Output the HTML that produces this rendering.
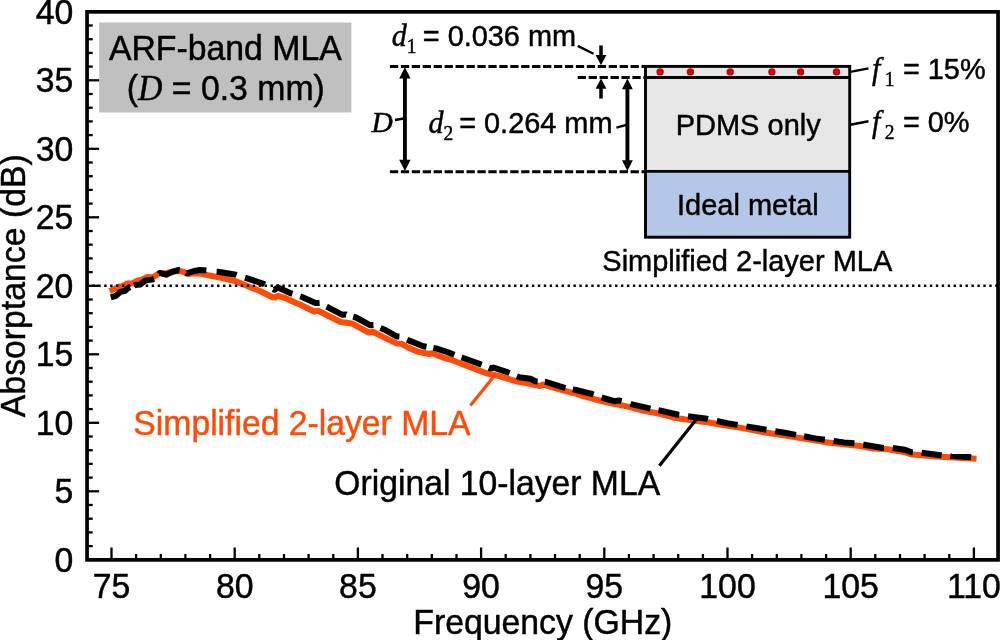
<!DOCTYPE html>
<html lang="en"><head><meta charset="utf-8"><title>Absorptance vs Frequency</title>
<style>html,body{margin:0;padding:0;background:#fff;}body{width:1000px;height:640px;overflow:hidden;}svg{display:block;}text{font-family:"Liberation Sans",sans-serif;fill:#000;}.it{font-family:"Liberation Serif",serif;font-style:italic;}.sr{font-family:"Liberation Serif",serif;font-style:normal;}</style></head><body>
<svg width="1000" height="640" viewBox="0 0 1000 640">
<rect x="0" y="0" width="1000" height="640" fill="#fff"/>
<g id="title-box">
<rect x="99.2" y="22.5" width="252.2" height="90" fill="#c0c0c0"/>
<text transform="translate(225.3 60.4) scale(1 1.04)" font-size="33.8" text-anchor="middle" style="fill:#000;stroke:#000;stroke-width:0.45px" >ARF-band MLA</text>
<text transform="translate(225.8 100.2) scale(1 1.04)" font-size="33.8" text-anchor="middle" style="fill:#000;stroke:#000;stroke-width:0.45px" >(<tspan class="it">D</tspan> = 0.3 mm)</text>
</g>
<g id="curves" fill="none">
<polyline points="109.6,291.2 114.8,288.6 119.3,286.4 122.0,286.4 127.4,283.5 131.9,283.6 137.3,280.7 141.8,279.6 147.2,276.9 152.6,277.3 159.8,273.1 165.2,273.5 172.4,271.6 179.6,270.9 184.1,272.0 187.7,274.0 194.0,273.2 200.0,273.6 212.0,276.0 224.0,278.4 236.0,281.4 248.0,286.2 260.0,291.0 272.0,297.0 275.0,297.6 278.0,295.8 284.0,297.6 296.0,303.0 300.0,304.5 314.0,311.5 318.2,310.8 328.0,315.7 340.6,322.0 346.2,322.7 351.8,323.4 368.6,332.5 372.8,331.8 384.0,337.4 396.6,343.4 401.3,343.7 407.5,347.2 413.8,350.1 420.0,352.3 423.1,352.8 429.4,354.0 432.5,353.2 438.8,355.9 445.0,358.2 450.0,359.2 462.5,364.2 475.0,369.0 487.5,373.6 492.0,374.4 500.0,376.4 516.0,381.2 528.8,383.6 540.0,386.0 543.2,384.6 564.0,390.6 576.0,393.6 580.0,395.0 596.0,399.7 612.8,403.5 628.0,406.6 644.0,410.8 660.0,413.8 676.0,418.0 692.0,420.4 708.0,422.3 724.0,425.3 740.0,427.6 764.0,432.2 796.0,437.4 828.0,442.5 860.0,446.0 872.0,448.4 888.0,449.2 904.0,452.0 912.0,454.6 936.0,456.4 976.5,458.8" stroke="#ff4b08" stroke-width="6" stroke-linejoin="round"/>
<g stroke="#000" stroke-width="6" stroke-linejoin="round">
<polyline points="110.8,297.3 115.7,295.9 120.2,291.9 124.7,291.0 128.3,287.9 130.1,287.2"/>
<polyline points="134.2,285.5 135.5,285.0 140.0,284.6 145.4,280.5 151.7,279.6 154.0,278.8"/>
<polyline points="158.9,273.9 159.8,272.9 166.1,274.7 172.4,271.8 178.7,270.0 179.6,270.1"/>
<polyline points="185.9,272.8 186.8,273.3 194.0,271.0 200.0,270.0 206.4,270.6"/>
<polyline points="216.6,271.7 218.0,271.8 236.0,274.8 236.6,275.0"/>
<polyline points="245.0,277.6 245.6,277.8 263.6,283.8 264.8,284.5"/>
<polyline points="273.2,289.1 274.4,289.8 278.0,287.4 291.2,293.4 292.4,293.8"/>
<polyline points="300.2,296.4 302.0,297.0 315.4,303.1 319.6,302.9"/>
<polyline points="326.6,306.6 328.0,307.3 342.0,314.7 346.0,314.5 346.2,314.6"/>
<polyline points="353.2,316.7 356.0,317.5 370.0,325.2 373.5,325.0"/>
<polyline points="380.5,327.9 384.0,329.4 396.6,336.4 399.4,336.6"/>
<polyline points="407.1,339.7 409.2,340.6 423.2,346.2 426.5,346.8"/>
<polyline points="433.3,347.9 436.0,348.4 450.4,353.2 454.4,354.7"/>
<polyline points="461.6,357.4 463.2,358.0 480.8,364.4 481.6,364.7"/>
<polyline points="488.8,367.7 490.4,368.4 493.6,367.6 508.0,372.4 509.6,373.1"/>
<polyline points="516.8,376.2 519.2,377.2 530.4,378.8 535.2,381.2 537.6,381.4"/>
<polyline points="544.8,381.9 546.4,382.0 564.0,387.6 565.6,387.9"/>
<polyline points="572.8,389.4 576.0,390.0 592.0,394.0 593.6,394.6"/>
<polyline points="601.6,397.4 603.2,398.0 614.4,401.2 619.2,400.4 621.6,401.1"/>
<polyline points="630.4,403.9 632.0,404.4 649.6,408.4 650.4,408.6"/>
<polyline points="658.4,410.3 660.8,410.8 678.4,414.8 679.2,414.9"/>
<polyline points="688.0,416.2 689.6,416.4 707.2,418.8 708.0,419.0"/>
<polyline points="716.8,420.9 727.2,423.2 737.6,424.9"/>
<polyline points="746.4,426.4 756.0,428.0 766.4,429.7"/>
<polyline points="775.2,431.2 784.8,432.8 796.0,434.9"/>
<polyline points="804.0,436.3 815.2,438.4 824.8,439.7"/>
<polyline points="833.6,441.0 844.0,442.4 854.4,443.2"/>
<polyline points="863.2,444.7 864.0,444.8 883.2,448.0 884.0,448.0"/>
<polyline points="892.8,448.0 905.0,449.8 911.5,452.2 912.8,452.3"/>
<polyline points="921.6,452.8 940.8,455.2 941.6,455.3"/>
<polyline points="950.4,455.9 951.2,456.0 971.2,457.2"/>
</g></g>
<line x1="86.38" y1="285.8" x2="998.0" y2="285.8" stroke="#000" stroke-width="2.4" stroke-dasharray="2.4 3.54"/>
<g id="ticks" stroke="#000" stroke-width="2.3">
<line x1="111.5" y1="559.85" x2="111.5" y2="547.5"/>
<line x1="136.1" y1="559.85" x2="136.1" y2="554.0"/>
<line x1="160.8" y1="559.85" x2="160.8" y2="554.0"/>
<line x1="185.4" y1="559.85" x2="185.4" y2="554.0"/>
<line x1="210.1" y1="559.85" x2="210.1" y2="554.0"/>
<line x1="234.7" y1="559.85" x2="234.7" y2="547.5"/>
<line x1="259.3" y1="559.85" x2="259.3" y2="554.0"/>
<line x1="284.0" y1="559.85" x2="284.0" y2="554.0"/>
<line x1="308.6" y1="559.85" x2="308.6" y2="554.0"/>
<line x1="333.3" y1="559.85" x2="333.3" y2="554.0"/>
<line x1="357.9" y1="559.85" x2="357.9" y2="547.5"/>
<line x1="382.5" y1="559.85" x2="382.5" y2="554.0"/>
<line x1="407.2" y1="559.85" x2="407.2" y2="554.0"/>
<line x1="431.8" y1="559.85" x2="431.8" y2="554.0"/>
<line x1="456.5" y1="559.85" x2="456.5" y2="554.0"/>
<line x1="481.1" y1="559.85" x2="481.1" y2="547.5"/>
<line x1="505.7" y1="559.85" x2="505.7" y2="554.0"/>
<line x1="530.4" y1="559.85" x2="530.4" y2="554.0"/>
<line x1="555.0" y1="559.85" x2="555.0" y2="554.0"/>
<line x1="579.7" y1="559.85" x2="579.7" y2="554.0"/>
<line x1="604.3" y1="559.85" x2="604.3" y2="547.5"/>
<line x1="628.9" y1="559.85" x2="628.9" y2="554.0"/>
<line x1="653.6" y1="559.85" x2="653.6" y2="554.0"/>
<line x1="678.2" y1="559.85" x2="678.2" y2="554.0"/>
<line x1="702.9" y1="559.85" x2="702.9" y2="554.0"/>
<line x1="727.5" y1="559.85" x2="727.5" y2="547.5"/>
<line x1="752.1" y1="559.85" x2="752.1" y2="554.0"/>
<line x1="776.8" y1="559.85" x2="776.8" y2="554.0"/>
<line x1="801.4" y1="559.85" x2="801.4" y2="554.0"/>
<line x1="826.1" y1="559.85" x2="826.1" y2="554.0"/>
<line x1="850.7" y1="559.85" x2="850.7" y2="547.5"/>
<line x1="875.3" y1="559.85" x2="875.3" y2="554.0"/>
<line x1="900.0" y1="559.85" x2="900.0" y2="554.0"/>
<line x1="924.6" y1="559.85" x2="924.6" y2="554.0"/>
<line x1="949.3" y1="559.85" x2="949.3" y2="554.0"/>
<line x1="973.9" y1="559.85" x2="973.9" y2="547.5"/>
<line x1="87.05" y1="546.1" x2="92.7" y2="546.1"/>
<line x1="87.05" y1="532.4" x2="92.7" y2="532.4"/>
<line x1="87.05" y1="518.7" x2="92.7" y2="518.7"/>
<line x1="87.05" y1="505.0" x2="92.7" y2="505.0"/>
<line x1="87.05" y1="491.3" x2="99.1" y2="491.3"/>
<line x1="87.05" y1="477.6" x2="92.7" y2="477.6"/>
<line x1="87.05" y1="463.9" x2="92.7" y2="463.9"/>
<line x1="87.05" y1="450.2" x2="92.7" y2="450.2"/>
<line x1="87.05" y1="436.5" x2="92.7" y2="436.5"/>
<line x1="87.05" y1="422.8" x2="99.1" y2="422.8"/>
<line x1="87.05" y1="409.1" x2="92.7" y2="409.1"/>
<line x1="87.05" y1="395.4" x2="92.7" y2="395.4"/>
<line x1="87.05" y1="381.7" x2="92.7" y2="381.7"/>
<line x1="87.05" y1="368.0" x2="92.7" y2="368.0"/>
<line x1="87.05" y1="354.3" x2="99.1" y2="354.3"/>
<line x1="87.05" y1="340.6" x2="92.7" y2="340.6"/>
<line x1="87.05" y1="326.9" x2="92.7" y2="326.9"/>
<line x1="87.05" y1="313.2" x2="92.7" y2="313.2"/>
<line x1="87.05" y1="299.5" x2="92.7" y2="299.5"/>
<line x1="87.05" y1="285.8" x2="99.1" y2="285.8"/>
<line x1="87.05" y1="272.1" x2="92.7" y2="272.1"/>
<line x1="87.05" y1="258.4" x2="92.7" y2="258.4"/>
<line x1="87.05" y1="244.7" x2="92.7" y2="244.7"/>
<line x1="87.05" y1="231.0" x2="92.7" y2="231.0"/>
<line x1="87.05" y1="217.3" x2="99.1" y2="217.3"/>
<line x1="87.05" y1="203.6" x2="92.7" y2="203.6"/>
<line x1="87.05" y1="189.9" x2="92.7" y2="189.9"/>
<line x1="87.05" y1="176.2" x2="92.7" y2="176.2"/>
<line x1="87.05" y1="162.5" x2="92.7" y2="162.5"/>
<line x1="87.05" y1="148.8" x2="99.1" y2="148.8"/>
<line x1="87.05" y1="135.1" x2="92.7" y2="135.1"/>
<line x1="87.05" y1="121.4" x2="92.7" y2="121.4"/>
<line x1="87.05" y1="107.7" x2="92.7" y2="107.7"/>
<line x1="87.05" y1="94.0" x2="92.7" y2="94.0"/>
<line x1="87.05" y1="80.3" x2="99.1" y2="80.3"/>
<line x1="87.05" y1="66.6" x2="92.7" y2="66.6"/>
<line x1="87.05" y1="52.9" x2="92.7" y2="52.9"/>
<line x1="87.05" y1="39.2" x2="92.7" y2="39.2"/>
<line x1="87.05" y1="25.5" x2="92.7" y2="25.5"/>
</g>
<rect x="87.05" y="11.85" width="911.0" height="548.0" fill="none" stroke="#000" stroke-width="3.7"/>
<g id="xlabels">
<text transform="translate(111.5 597.8) scale(1 1.04)" font-size="33.8" text-anchor="middle" style="fill:#000;stroke:#000;stroke-width:0.45px" >75</text>
<text transform="translate(234.7 597.8) scale(1 1.04)" font-size="33.8" text-anchor="middle" style="fill:#000;stroke:#000;stroke-width:0.45px" >80</text>
<text transform="translate(357.9 597.8) scale(1 1.04)" font-size="33.8" text-anchor="middle" style="fill:#000;stroke:#000;stroke-width:0.45px" >85</text>
<text transform="translate(481.1 597.8) scale(1 1.04)" font-size="33.8" text-anchor="middle" style="fill:#000;stroke:#000;stroke-width:0.45px" >90</text>
<text transform="translate(604.3 597.8) scale(1 1.04)" font-size="33.8" text-anchor="middle" style="fill:#000;stroke:#000;stroke-width:0.45px" >95</text>
<text transform="translate(727.5 597.8) scale(1 1.04)" font-size="33.8" text-anchor="middle" style="fill:#000;stroke:#000;stroke-width:0.45px" >100</text>
<text transform="translate(850.7 597.8) scale(1 1.04)" font-size="33.8" text-anchor="middle" style="fill:#000;stroke:#000;stroke-width:0.45px" >105</text>
<text transform="translate(973.9 597.8) scale(1 1.04)" font-size="33.8" text-anchor="middle" style="fill:#000;stroke:#000;stroke-width:0.45px" >110</text>
</g>
<g id="ylabels">
<text transform="translate(73.4 571.9) scale(1 1.04)" font-size="33.8" text-anchor="end" style="fill:#000;stroke:#000;stroke-width:0.45px" >0</text>
<text transform="translate(73.4 503.4) scale(1 1.04)" font-size="33.8" text-anchor="end" style="fill:#000;stroke:#000;stroke-width:0.45px" >5</text>
<text transform="translate(73.4 434.9) scale(1 1.04)" font-size="33.8" text-anchor="end" style="fill:#000;stroke:#000;stroke-width:0.45px" >10</text>
<text transform="translate(73.4 366.4) scale(1 1.04)" font-size="33.8" text-anchor="end" style="fill:#000;stroke:#000;stroke-width:0.45px" >15</text>
<text transform="translate(73.4 297.9) scale(1 1.04)" font-size="33.8" text-anchor="end" style="fill:#000;stroke:#000;stroke-width:0.45px" >20</text>
<text transform="translate(73.4 229.4) scale(1 1.04)" font-size="33.8" text-anchor="end" style="fill:#000;stroke:#000;stroke-width:0.45px" >25</text>
<text transform="translate(73.4 160.9) scale(1 1.04)" font-size="33.8" text-anchor="end" style="fill:#000;stroke:#000;stroke-width:0.45px" >30</text>
<text transform="translate(73.4 92.4) scale(1 1.04)" font-size="33.8" text-anchor="end" style="fill:#000;stroke:#000;stroke-width:0.45px" >35</text>
<text transform="translate(73.4 23.9) scale(1 1.04)" font-size="33.8" text-anchor="end" style="fill:#000;stroke:#000;stroke-width:0.45px" >40</text>
</g>
<text transform="translate(542.8 634.2) scale(1 1.04)" font-size="33.8" text-anchor="middle" style="fill:#000;stroke:#000;stroke-width:0.45px" >Frequency (GHz)</text>
<text transform="translate(24.9 285.7) rotate(-90) scale(1 1.04)" font-size="33.8" text-anchor="middle" style="fill:#000;stroke:#000;stroke-width:0.45px" >Absorptance (dB)</text>
<g id="curve-labels">
<line x1="494.6" y1="375.5" x2="470.4" y2="405.4" stroke="#ff4b08" stroke-width="3.2"/>
<text transform="translate(301.9 434.8) scale(1 1.04)" font-size="33.7" text-anchor="middle" style="fill:#ff4b08;stroke:#ff4b08;stroke-width:0.45px" >Simplified 2-layer MLA</text>
<line x1="697" y1="418.5" x2="659.4" y2="465.8" stroke="#000" stroke-width="3.2"/>
<text transform="translate(497.2 494.7) scale(1 1.04)" font-size="33.7" text-anchor="middle" style="fill:#000;stroke:#000;stroke-width:0.45px" >Original 10-layer MLA</text>
</g>
<g id="inset">
<rect x="645.5" y="66.4" width="204.2" height="105.0" fill="#e6e6e6"/>
<rect x="645.5" y="171.4" width="204.2" height="65.8" fill="#b4c7e7"/>
<g stroke="#000" stroke-width="3" stroke-dasharray="8.3 2.64">
<line x1="389.9" y1="66.4" x2="645.5" y2="66.4"/>
<line x1="577.7" y1="77.4" x2="645.5" y2="77.4"/>
<line x1="389.9" y1="171.7" x2="645.5" y2="171.7"/>
</g>
<g stroke="#000" stroke-width="2.9" fill="none">
<rect x="645.5" y="66.4" width="204.2" height="170.8"/>
<line x1="645.5" y1="77.5" x2="849.7" y2="77.5"/>
<line x1="645.5" y1="171.4" x2="849.7" y2="171.4"/>
</g>
<g fill="#d0000c">
<circle cx="660.1" cy="71.9" r="3.7"/>
<circle cx="690.4" cy="71.9" r="3.7"/>
<circle cx="730.2" cy="71.9" r="3.7"/>
<circle cx="771.9" cy="71.9" r="3.7"/>
<circle cx="800.6" cy="71.9" r="3.7"/>
<circle cx="836.5" cy="71.9" r="3.7"/>
</g>
<text transform="translate(748.2 135) scale(1 1.04)" font-size="29" text-anchor="middle" style="fill:#000;stroke:#000;stroke-width:0.45px" >PDMS only</text>
<text transform="translate(747.9 215.3) scale(1 1.04)" font-size="29" text-anchor="middle" style="fill:#000;stroke:#000;stroke-width:0.45px" >Ideal metal</text>
<text transform="translate(747.3 270.6) scale(1 1.04)" font-size="29" text-anchor="middle" style="fill:#000;stroke:#000;stroke-width:0.45px" >Simplified 2-layer MLA</text>
<line x1="404.9" y1="77.4" x2="404.9" y2="160.8" stroke="#000" stroke-width="3.9"/><polygon points="404.9,67.2 399.2,78.4 410.59999999999997,78.4" fill="#000"/><polygon points="404.9,171.0 399.2,159.8 410.59999999999997,159.8" fill="#000"/>
<line x1="627.4" y1="88.3" x2="627.4" y2="161.2" stroke="#000" stroke-width="3.9"/><polygon points="627.4,78.5 622.0,89.3 632.8,89.3" fill="#000"/><polygon points="627.4,171.0 622.0,160.2 632.8,160.2" fill="#000"/>
<line x1="601" y1="45.4" x2="601" y2="56" stroke="#000" stroke-width="3.5"/>
<polygon points="601,65.3 595.6,55 606.4,55" fill="#000"/>
<line x1="601" y1="88" x2="601" y2="98.6" stroke="#000" stroke-width="3.5"/>
<polygon points="601,78.5 595.6,88.8 606.4,88.8" fill="#000"/>
<g stroke="#000" stroke-width="2.4">
<line x1="577.7" y1="45.9" x2="593.5" y2="53.8"/>
<line x1="395" y1="120" x2="404.9" y2="118.3"/>
<line x1="616.4" y1="127.6" x2="627.4" y2="124.6"/>
<line x1="850.3" y1="71.9" x2="868.5" y2="68.4"/>
<line x1="850.3" y1="124.8" x2="868.5" y2="121.2"/>
</g>
<text transform="translate(391.8 46.2) scale(1 1.04)" font-size="28.9" text-anchor="start" style="fill:#000;stroke:#000;stroke-width:0.45px" ><tspan class="it" font-size="30">d</tspan><tspan class="sr" font-size="19.5" dx="0" dy="6.6">1</tspan><tspan dx="-1.8" dy="-6.6"> = 0.036 mm</tspan></text>
<text transform="translate(428.6 132.9) scale(1 1.04)" font-size="28.9" text-anchor="start" style="fill:#000;stroke:#000;stroke-width:0.45px" ><tspan class="it" font-size="30">d</tspan><tspan class="sr" font-size="19.5" dx="0" dy="6.6">2</tspan><tspan dx="-2.2" dy="-6.6"> = 0.264 mm</tspan></text>
<text transform="translate(371.5 131.8) scale(1 1.0)" font-size="29.5" text-anchor="start" style="fill:#000;stroke:#000;stroke-width:0.45px" class="it">D</text>
<text transform="translate(872 79) scale(1 1.04)" font-size="28.9" text-anchor="start" style="fill:#000;stroke:#000;stroke-width:0.45px" ><tspan class="it" font-size="30">f</tspan><tspan class="sr" font-size="19.5" dx="4.5" dy="6.6">1</tspan><tspan dx="0.3" dy="-6.6"> = 15%</tspan></text>
<text transform="translate(872 132.3) scale(1 1.04)" font-size="28.9" text-anchor="start" style="fill:#000;stroke:#000;stroke-width:0.45px" ><tspan class="it" font-size="30">f</tspan><tspan class="sr" font-size="19.5" dx="4.5" dy="6.6">2</tspan><tspan dx="0.3" dy="-6.6"> = 0%</tspan></text>
</g>
</svg></body></html>
